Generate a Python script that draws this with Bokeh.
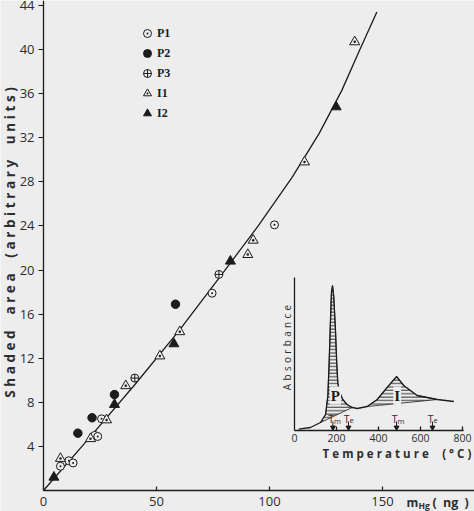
from math import pi
from bokeh.plotting import figure
from bokeh.models import Range1d, FixedTicker, Legend, LegendItem
from bokeh.core.properties import value
from bokeh.embed import file_html
from bokeh.resources import INLINE

# ---------------- main chart data (m_Hg in ng, shaded area in arbitrary units)
P1_X = [7.5, 11.2, 13.1, 22.7, 24.0, 25.7, 74.6, 102.2]
P1_Y = [2.2, 2.7, 2.5, 5.0, 4.9, 6.5, 17.9, 24.1]
P2_X = [15.2, 21.5, 31.4, 58.4]
P2_Y = [5.2, 6.6, 8.7, 16.9]
P3_X = [40.4, 77.6]
P3_Y = [10.2, 19.6]
I1_X = [7.5, 20.8, 27.9, 36.4, 51.5, 60.3, 90.4, 92.8, 115.5, 137.7]
I1_Y = [2.9, 4.7, 6.4, 9.5, 12.2, 14.4, 21.4, 22.7, 29.8, 40.7]
I2_X = [4.6, 31.4, 57.7, 82.7, 129.5]
I2_Y = [1.2, 7.8, 13.3, 20.8, 34.8]

CURVE_X = [0, 20, 40, 60, 80, 95, 110, 122, 132, 140, 147.5]
CURVE_Y = [0, 4.7, 9.5, 14.5, 19.9, 24.0, 28.4, 32.4, 36.3, 40.0, 43.4]

X_TICKS = [0, 50, 100, 150]
Y_TICKS = [4, 8, 12, 16, 20, 24, 28, 32, 36, 40, 44]
SERIES = ["P1", "P2", "P3", "I1", "I2"]

# ---------------- inset data (thermogram: temperature in deg C, absorbance arbitrary)
INSET_T = [20, 76, 124, 148, 159, 165, 171, 176, 181, 187, 195, 201, 206, 215,
           230, 250, 275, 299, 346, 394, 441, 486, 520, 584, 680, 759]
INSET_A = [1.3, 3, 8, 16, 35, 68, 108, 138, 145, 134, 101, 68, 48, 38,
           31, 26, 23, 22, 24, 31, 43, 54, 45, 35, 31, 29]
P_BAND = (124, 275)
I_BAND = (346, 680)
T_TICKS = [0, 200, 400, 600, 800]
MARK_T = [183, 257, 486, 657]
MARK_SUB = ["m", "e", "m", "e"]

BG = "#ededed"
INK = "#1c1c1c"
TXT = "#2e2e2e"

W, H = 474, 511
X0_PX, X_PX_PER = 43, 2.26      # page pixel of x=0, pixels per ng
Y0_PX, Y_PX_PER = 490, 11.023   # page pixel of y=0, pixels per unit


def dx(px):
    return (px - X0_PX) / X_PX_PER


def dy(py):
    return (Y0_PX - py) / Y_PX_PER


def spaced(s, gap="\u2009\u200a", wgap="\u2003\u2009"):
    return wgap.join(gap.join(w) for w in s.split(" "))


p = figure(width=W, height=H, x_range=Range1d(dx(0), dx(W)), y_range=Range1d(dy(H), dy(0)),
           output_backend="svg", toolbar_location=None,
           min_border_left=0, min_border_right=0, min_border_top=0, min_border_bottom=0,
           background_fill_color=BG, border_fill_color=BG, outline_line_color=None)
p.grid.visible = False

for ax in (p.xaxis[0], p.yaxis[0]):
    ax.fixed_location = 0
    ax.axis_line_color = INK
    ax.axis_line_width = 1.3
    ax.major_tick_line_color = INK
    ax.major_tick_line_width = 1.2
    ax.minor_tick_line_color = None
    ax.major_label_text_font = "Open Sans"
    ax.major_label_text_font_size = "13px"
    ax.major_label_text_color = TXT

p.yaxis.bounds = (0, dy(0))
p.xaxis.bounds = (0, dx(W))
p.yaxis.ticker = FixedTicker(ticks=Y_TICKS)
p.yaxis.major_tick_out = 5
p.yaxis.major_tick_in = 0
p.yaxis.major_label_standoff = 4
p.xaxis.ticker = FixedTicker(ticks=X_TICKS)
p.xaxis.major_tick_out = 0
p.xaxis.major_tick_in = 4
p.xaxis.major_label_standoff = 6

# fitted curve
p.line(CURVE_X, CURVE_Y, line_color=INK, line_width=1.3)

r_p1 = p.scatter(P1_X, P1_Y, marker="circle_dot", size=8, fill_color=BG, line_color=INK, line_width=1)
r_p2 = p.scatter(P2_X, P2_Y, marker="circle", size=8.5, fill_color=INK, line_color=INK)
r_p3 = p.scatter(P3_X, P3_Y, marker="circle_cross", size=8, fill_color=BG, line_color=INK, line_width=1)
r_i1 = p.scatter(I1_X, I1_Y, marker="triangle_dot", size=10, fill_color=BG, line_color=INK, line_width=1)
r_i2 = p.scatter(I2_X, I2_Y, marker="triangle", size=10, fill_color=INK, line_color=INK)

legend = Legend(items=[LegendItem(label=s, renderers=[r]) for s, r in
                       zip(SERIES, [r_p1, r_p2, r_p3, r_i1, r_i2])],
                location=(137, H - 123), padding=0, spacing=0, margin=0,
                glyph_width=20, glyph_height=20, label_height=20, label_standoff=0,
                border_line_color=None, background_fill_alpha=0,
                label_text_font="Liberation Serif", label_text_font_style="bold",
                label_text_font_size="12px", label_text_color=INK)
p.add_layout(legend)

# axis titles (drawn inside the full-canvas frame)
p.text(x=[dx(9)], y=[dy(242)], text=[spaced("Shaded area (arbitrary units)")], angle=pi / 2,
       text_align="center", text_baseline="middle", text_font=value("Open Sans"),
       text_font_style="bold", text_font_size="13.5px", text_color=TXT)
p.text(x=[dx(406)], y=[dy(502)], text=["m"], text_align="left", text_baseline="middle",
       text_font=value("Open Sans"), text_font_style="bold", text_font_size="12px", text_color=TXT)
p.text(x=[dx(418)], y=[dy(505)], text=["Hg"], text_align="left", text_baseline="middle",
       text_font=value("Open Sans"), text_font_style="bold", text_font_size="8.5px", text_color=TXT)
p.text(x=[dx(432)], y=[dy(502)], text=["(\u2002ng\u2002)"], text_align="left", text_baseline="middle",
       text_font=value("Open Sans"), text_font_style="bold", text_font_size="12.5px", text_color=TXT)

# ---------------- inset thermogram drawn in its own sub-coordinate system
xy = p.subplot(x_source=Range1d(0, 800), y_source=Range1d(0, 150),
               x_target=Range1d(dx(294), dx(462)), y_target=Range1d(dy(430), dy(280)))

for band in (P_BAND, I_BAND):
    pts = [(t, a) for t, a in zip(INSET_T, INSET_A) if band[0] <= t <= band[1]]
    xy.patch([q[0] for q in pts], [q[1] for q in pts], fill_color=BG, fill_alpha=0,
             hatch_pattern="horizontal_line", hatch_scale=3.4, hatch_weight=0.9,
             hatch_color=INK, line_color=INK, line_width=0.8)

xy.line(INSET_T, INSET_A, line_color=INK, line_width=1.3)

# inset axes
xy.segment(x0=[T_TICKS[0], T_TICKS[0]], y0=[0, 0], x1=[T_TICKS[-1] + 5, T_TICKS[0]], y1=[0, 153],
           line_color=INK, line_width=1.3)
xy.segment(x0=T_TICKS[1:], y0=0, x1=T_TICKS[1:], y1=4, line_color=INK, line_width=1.3)
xy.text(x=T_TICKS, y=[0] * len(T_TICKS), text=[str(t) for t in T_TICKS], y_offset=3,
        text_align="center", text_baseline="top", text_font=value("Open Sans"),
        text_font_size="10.5px", text_color=TXT)
xy.text(x=[488], y=[0], text=[spaced("Temperature (\u00b0C)")], y_offset=15,
        text_align="center", text_baseline="top", text_font=value("Open Sans"),
        text_font_style="bold", text_font_size="11.5px", text_color=TXT)
xy.text(x=[0], y=[83], text=[spaced("Absorbance", gap="\u2009\u2009")], x_offset=-8, angle=pi / 2,
        text_align="center", text_baseline="middle", text_font=value("Open Sans"),
        text_font_size="10px", text_color=TXT)

# melting / end temperature markers
xy.segment(x0=MARK_T, y0=0, x1=MARK_T, y1=9, line_color=INK, line_width=1)
xy.scatter(MARK_T, [3] * len(MARK_T), marker="inverted_triangle", size=5, color=INK)
xy.text(x=MARK_T, y=[12] * len(MARK_T), text=["T"] * len(MARK_T), x_offset=1,
        text_align="right", text_baseline="alphabetic", text_font=value("Open Sans"),
        text_font_size="10.5px", text_color=TXT)
xy.text(x=MARK_T, y=[10] * len(MARK_T), text=MARK_SUB, x_offset=1,
        text_align="left", text_baseline="alphabetic", text_font=value("Open Sans"),
        text_font_size="7.5px", text_color=TXT)

# peak labels
xy.text(x=[195, 489], y=[35, 35], text=["P", "I"], text_align="center", text_baseline="middle",
        text_font=value("Liberation Serif"), text_font_style="bold", text_font_size="15px",
        text_color=INK, background_fill_color=BG, padding=1)

open("out.html", "w").write(file_html(p, INLINE))
